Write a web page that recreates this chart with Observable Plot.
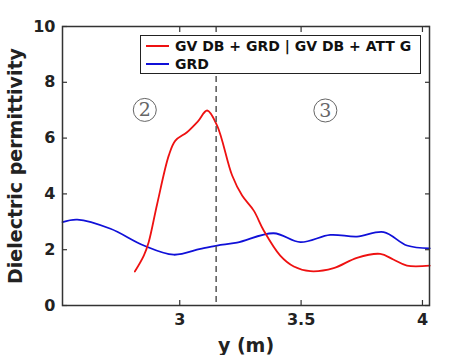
<!DOCTYPE html>
<html><head><meta charset="utf-8">
<script src="https://cdn.jsdelivr.net/npm/d3@7"></script>
<script src="https://cdn.jsdelivr.net/npm/@observablehq/plot@0.6"></script>
<style>
body{margin:0;background:#fff;}
#chart{position:relative;width:474px;height:355px;font-family:"DejaVu Sans",sans-serif;}
.legend{position:absolute;left:140px;top:35px;width:279px;height:37px;border:1.5px solid #222;background:#fff;font-weight:bold;font-size:14px;color:#111;}
.row{position:absolute;left:5px;height:16px;display:flex;align-items:center;}
.row .sw{width:23px;height:0;border-top:2px solid;margin-right:6px;}
</style></head><body><div id="chart"></div>
<script>
const xTicks = [3, 3.5, 4];
const yTicks = [0, 2, 4, 6, 8, 10];
const seriesNames = ["GV DB + GRD | GV DB + ATT G", "GRD"];
const seriesColors = ["#ee1111", "#1010d8"];

const redX = [2.815, 2.852, 2.872, 2.907, 2.955, 2.982, 3.03, 3.075, 3.113, 3.154, 3.216, 3.257, 3.305, 3.346, 3.414, 3.47, 3.538, 3.634, 3.73, 3.826, 3.88, 3.936, 4.03];
const redY = [1.22, 1.79, 2.27, 3.64, 5.38, 5.91, 6.21, 6.6, 6.99, 6.45, 4.66, 3.94, 3.40, 2.69, 1.79, 1.4, 1.23, 1.34, 1.71, 1.85, 1.65, 1.43, 1.43];

const blueX = [2.517, 2.578, 2.715, 2.852, 2.975, 3.085, 3.154, 3.236, 3.387, 3.497, 3.62, 3.73, 3.84, 3.936, 4.03];
const blueY = [2.99, 3.08, 2.75, 2.15, 1.82, 2.03, 2.15, 2.25, 2.59, 2.27, 2.53, 2.47, 2.63, 2.15, 2.05];

const splitPos = [3.15];
const zoneLabels = ["2", "3"];
const zoneX = [2.856, 3.6];
const zoneY = [7.01, 6.99];

const red = redX.map((x, i) => ({x, y: redY[i]}));
const blue = blueX.map((x, i) => ({x, y: blueY[i]}));
const zones = zoneLabels.map((t, i) => ({t, x: zoneX[i], y: zoneY[i]}));

const plot = Plot.plot({
  width: 474, height: 355,
  marginLeft: 62, marginRight: 45, marginTop: 26, marginBottom: 50,
  x: {domain: [2.517, 4.029]},
  y: {domain: [0, 10]},
  style: {fontFamily: "DejaVu Sans", fontWeight: "bold", fontSize: "16px", color: "#222", background: "#fff", overflow: "visible"},
  marks: [
    Plot.line(blue, {x: "x", y: "y", stroke: seriesColors[1], strokeWidth: 1.8, curve: "catmull-rom"}),
    Plot.line(red, {x: "x", y: "y", stroke: seriesColors[0], strokeWidth: 1.8, curve: "catmull-rom"}),
    Plot.ruleX(splitPos, {stroke: "#555", strokeWidth: 1.5, strokeDasharray: "6,4"}),
    Plot.dot(zones, {x: "x", y: "y", r: 11.5, stroke: "#666", strokeWidth: 1}),
    Plot.text(zones, {x: "x", y: "y", text: "t", fontFamily: "DejaVu Serif", fontWeight: "normal", fontSize: 19, fill: "#666"}),
    Plot.frame({stroke: "#333", strokeWidth: 1.5}),
    Plot.axisX({ticks: xTicks, tickSize: -5, tickPadding: 13, tickFormat: d => String(d), stroke: "#333", strokeWidth: 1.2,
      label: "y (m)", labelAnchor: "center", labelArrow: "none", labelOffset: 46, fontSize: 16}),
    Plot.axisX({anchor: "top", ticks: xTicks, tickSize: -5, tickFormat: () => "", stroke: "#333", strokeWidth: 1.2, label: null}),
    Plot.axisY({ticks: yTicks, tickSize: -5, tickPadding: 12, stroke: "#333", strokeWidth: 1.2,
      label: "Dielectric permittivity", labelAnchor: "center", labelArrow: "none", labelOffset: 54}),
    Plot.axisY({anchor: "right", ticks: yTicks, tickSize: -5, tickFormat: () => "", stroke: "#333", strokeWidth: 1.2, label: null})
  ]
});
const chart = document.getElementById("chart");
chart.appendChild(plot);
plot.querySelectorAll("g[aria-label='x-axis label'] text, g[aria-label='y-axis label'] text").forEach(t => t.setAttribute("font-size", "19"));

const leg = document.createElement("div");
leg.className = "legend";
seriesNames.forEach((name, i) => {
  const r = document.createElement("div");
  r.className = "row";
  r.style.top = (2 + i * 18) + "px";
  const sw = document.createElement("span");
  sw.className = "sw";
  sw.style.borderTopColor = seriesColors[i];
  const tx = document.createElement("span");
  tx.textContent = name;
  r.appendChild(sw); r.appendChild(tx);
  leg.appendChild(r);
});
chart.appendChild(leg);
</script>
</body></html>
